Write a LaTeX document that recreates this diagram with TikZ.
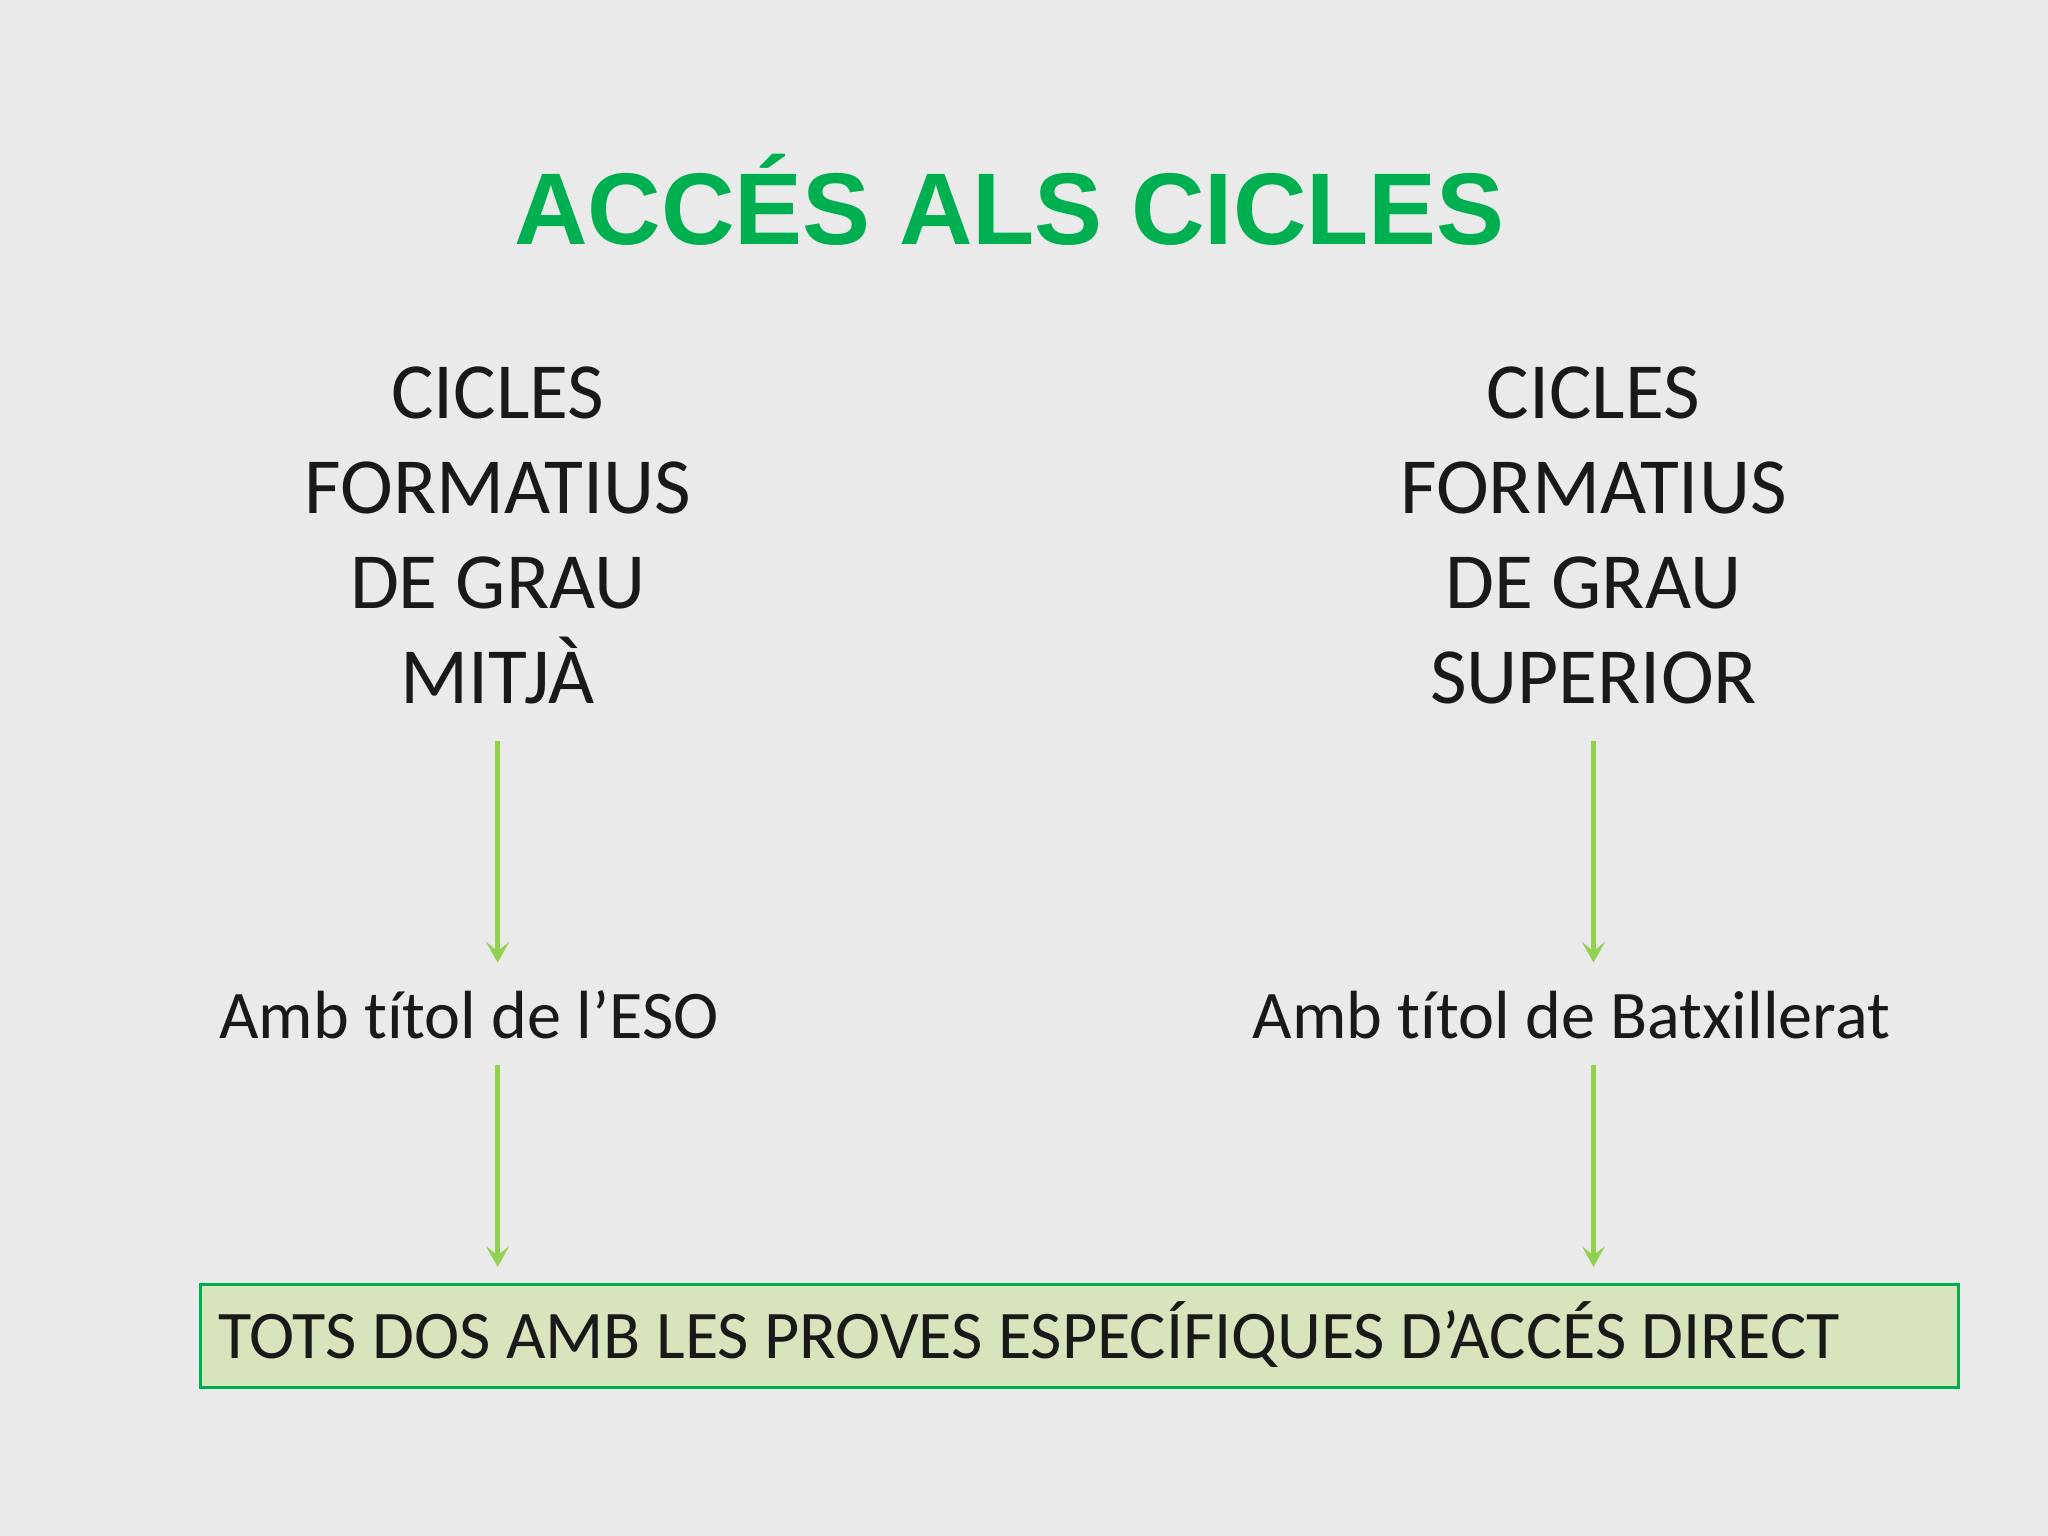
\documentclass[tikz,border=0pt]{standalone}
\usepackage{fontspec}
\setmainfont{Carlito}[Ligatures={NoCommon,NoRequired,NoContextual}]
\newfontfamily\titlefont{Liberation Sans}
\usetikzlibrary{arrows.meta}
\definecolor{bg}{RGB}{234,234,234}
\definecolor{tgreen}{RGB}{0,176,80}
\definecolor{agreen}{RGB}{146,208,80}
\definecolor{boxfill}{RGB}{216,228,188}
\tikzset{
  big/.style={font=\fontsize{34.7}{41.5}\selectfont, text=black!90},
  lab/.style={font=\fontsize{29.7}{36}\selectfont, text=black!90},
  arr/.style={draw=agreen, line width=2.4pt, -{Stealth[length=9pt,width=10pt,inset=4pt]}}
}
\begin{document}
\begin{tikzpicture}[x=0.02cm,y=-0.02cm]
\fill[bg] (0,0) rectangle (1568,1176);
\useasboundingbox (0,0) rectangle (1568,1176);
\node[font=\titlefont\bfseries\fontsize{44.4}{50}\selectfont, text=tgreen] (title) at (773,153) {ACCÉS ALS CICLES};
\node[big, align=center] (l) at (381,410) {CICLES\\FORMATIUS\\DE GRAU\\MITJÀ};
\node[big, align=center] (r) at (1220,410) {CICLES\\FORMATIUS\\DE GRAU\\SUPERIOR};
\node[lab] (la) at (359,777) {Amb títol de l’ESO};
\node[lab] (ra) at (1203,777) {Amb títol de Batxillerat};
\node[draw=tgreen, fill=boxfill, line width=1.3pt, minimum width=1346*0.02cm, minimum height=79*0.02cm, anchor=north west] (box) at (152,982) {};
\node[lab, anchor=west] (bt) at (161,1022) {TOTS DOS AMB LES PROVES ESPECÍFIQUES D’ACCÉS DIRECT};
\coordinate (l1) at (381,567); \coordinate (l2) at (381,737);
\coordinate (l3) at (381,815); \coordinate (l4) at (381,970);
\coordinate (r1) at (1220,567); \coordinate (r2) at (1220,737);
\coordinate (r3) at (1220,815); \coordinate (r4) at (1220,970);
\draw[arr] (l1) -- (l2); \draw[arr] (l3) -- (l4);
\draw[arr] (r1) -- (r2); \draw[arr] (r3) -- (r4);
\end{tikzpicture}
\end{document}
